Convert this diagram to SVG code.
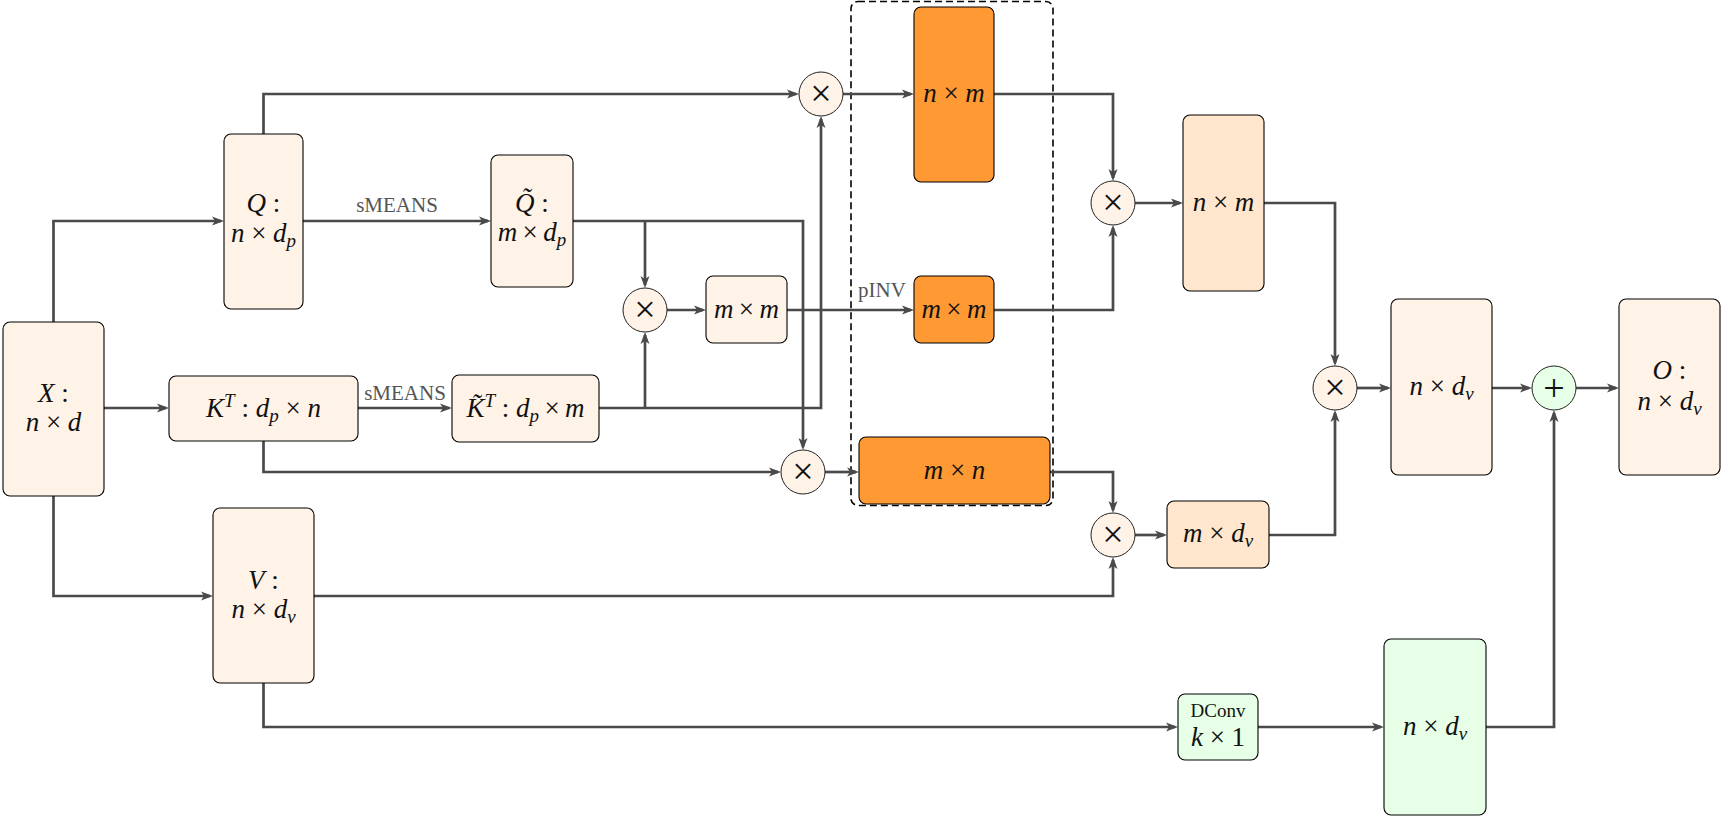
<svg xmlns="http://www.w3.org/2000/svg" width="1724" height="818" viewBox="0 0 1724 818">
<style>
.box{stroke:#000;stroke-width:1.1}
.cream{fill:#fff2e6}.lor{fill:#ffe6cc}.or{fill:#ff9933}.gr{fill:#e6ffe6}
.opc{fill:#fff2e6;stroke:#222;stroke-width:1}
.opg{fill:#e6ffe6;stroke:#222;stroke-width:1}
#connectors path{fill:none;stroke:#4a4a4a;stroke-width:2.7;marker-end:url(#ah)}
.t{font-family:"Liberation Serif","Times New Roman",serif;font-size:27px;fill:#111;text-anchor:middle}
.i{font-style:italic}
.s{font-size:19px}
.lbl{font-family:"Liberation Serif","Times New Roman",serif;font-size:21px;fill:#555;text-anchor:middle}
.op{font-family:"Liberation Serif",serif;font-size:38px;fill:#111;text-anchor:middle}
</style>
<defs>
<marker id="ah" viewBox="-10 -6 14 12" refX="0" refY="0" markerWidth="14" markerHeight="12" markerUnits="userSpaceOnUse" orient="auto">
<path d="M3,0 L-9,-4.5 L-6,0 L-9,4.5 Z" fill="#4a4a4a"/>
</marker>
</defs>
<rect width="1724" height="818" fill="#fff"/>

<rect id="dashed-group" x="851" y="1.5" width="202" height="504" rx="7" fill="none" stroke="#000" stroke-width="1.6" stroke-dasharray="7 4"/>

<g id="connectors">
<path d="M53.5,322 V221 H221"/>
<path d="M104,408 H166"/>
<path d="M53.5,496 V596 H210"/>
<path d="M263.5,134 V94 H796"/>
<path d="M303,221 H488"/>
<path d="M358,408 H449"/>
<path d="M573,221 H803 V447"/>
<path d="M645,221 V285"/>
<path d="M599,408 H821 V119"/>
<path d="M645,408 V335"/>
<path d="M263.5,441 V472 H778"/>
<path d="M667,310 H703"/>
<path d="M787,310 H911"/>
<path d="M843,94 H911"/>
<path d="M825,472 H856"/>
<path d="M994,94 H1113 V178"/>
<path d="M994,310 H1113 V228"/>
<path d="M1135,203 H1180"/>
<path d="M1264,203 H1335 V363"/>
<path d="M1050,472 H1113 V510"/>
<path d="M314,596 H1113 V560"/>
<path d="M1135,535 H1164"/>
<path d="M1269,535 H1335 V413"/>
<path d="M1357,388 H1388"/>
<path d="M1492,388 H1529"/>
<path d="M1576,388 H1616"/>
<path d="M263.5,683 V727 H1175"/>
<path d="M1258,727 H1381"/>
<path d="M1486,727 H1554 V413"/>
<text class="lbl" x="397" y="212">sMEANS</text>
<text class="lbl" x="405" y="400">sMEANS</text>
<text class="lbl" x="882" y="297">pINV</text>
</g>

<g id="X">
<rect class="box cream" x="3" y="322" width="101" height="174" rx="7"/>
<text class="t" x="53.5" y="402"><tspan class="i">X</tspan> :</text>
<text class="t" x="53.5" y="431"><tspan class="i">n</tspan> × <tspan class="i">d</tspan></text>
</g>

<g id="Q">
<rect class="box cream" x="224" y="134" width="79" height="175" rx="7"/>
<text class="t" x="263.5" y="212"><tspan class="i">Q</tspan> :</text>
<text class="t" x="263.5" y="242"><tspan class="i">n</tspan> × <tspan class="i">d</tspan><tspan class="i s" dy="5">p</tspan></text>
</g>

<g id="Qtilde">
<rect class="box cream" x="491" y="155" width="82" height="132" rx="7"/>
<text class="t" x="532" y="212"><tspan class="i">Q&#x303;</tspan> :</text>
<text class="t" x="532" y="241"><tspan class="i">m</tspan>&#x2009;×&#x2009;<tspan class="i">d</tspan><tspan class="i s" dy="5">p</tspan></text>
</g>

<g id="KT">
<rect class="box cream" x="169" y="376" width="189" height="65" rx="7"/>
<text class="t" x="263.5" y="417"><tspan class="i">K</tspan><tspan class="i s" dy="-10">T</tspan><tspan dy="10"> : </tspan><tspan class="i">d</tspan><tspan class="i s" dy="5">p</tspan><tspan dy="-5"> × </tspan><tspan class="i">n</tspan></text>
</g>

<g id="KtildeT">
<rect class="box cream" x="452" y="375" width="147" height="67" rx="7"/>
<text class="t" x="525.5" y="417"><tspan class="i">K&#x303;</tspan><tspan class="i s" dy="-10">T</tspan><tspan dy="10"> : </tspan><tspan class="i">d</tspan><tspan class="i s" dy="5">p</tspan><tspan dy="-5">&#x2009;×&#x2009;</tspan><tspan class="i">m</tspan></text>
</g>

<g id="mul2">
<circle class="opc" cx="645" cy="310" r="22"/>
<text class="op" x="645" y="321.5">×</text>
</g>

<g id="MM">
<rect class="box cream" x="706" y="276" width="81" height="67" rx="7"/>
<text class="t" x="746.5" y="318"><tspan class="i">m</tspan>&#x2009;×&#x2009;<tspan class="i">m</tspan></text>
</g>

<g id="mul1">
<circle class="opc" cx="821" cy="94" r="22"/>
<text class="op" x="821" y="105.5">×</text>
</g>

<g id="mul3">
<circle class="opc" cx="803" cy="472" r="22"/>
<text class="op" x="803" y="483.5">×</text>
</g>

<g id="NMorange">
<rect class="box or" x="914" y="7" width="80" height="175" rx="7"/>
<text class="t" x="954" y="102"><tspan class="i">n</tspan> × <tspan class="i">m</tspan></text>
</g>

<g id="MMorange">
<rect class="box or" x="914" y="276" width="80" height="67" rx="7"/>
<text class="t" x="954" y="318"><tspan class="i">m</tspan>&#x2009;×&#x2009;<tspan class="i">m</tspan></text>
</g>

<g id="MNorange">
<rect class="box or" x="859" y="437" width="191" height="67" rx="7"/>
<text class="t" x="954.5" y="479"><tspan class="i">m</tspan> × <tspan class="i">n</tspan></text>
</g>

<g id="mul4">
<circle class="opc" cx="1113" cy="203" r="22"/>
<text class="op" x="1113" y="214.5">×</text>
</g>

<g id="NM">
<rect class="box lor" x="1183" y="115" width="81" height="176" rx="7"/>
<text class="t" x="1223.5" y="211"><tspan class="i">n</tspan> × <tspan class="i">m</tspan></text>
</g>

<g id="mul6">
<circle class="opc" cx="1113" cy="535" r="22"/>
<text class="op" x="1113" y="546.5">×</text>
</g>

<g id="MDv">
<rect class="box lor" x="1167" y="501" width="102" height="67" rx="7"/>
<text class="t" x="1218" y="542"><tspan class="i">m</tspan> × <tspan class="i">d</tspan><tspan class="i s" dy="5">v</tspan></text>
</g>

<g id="mul5">
<circle class="opc" cx="1335" cy="388" r="22"/>
<text class="op" x="1335" y="399.5">×</text>
</g>

<g id="NDv">
<rect class="box cream" x="1391" y="299" width="101" height="176" rx="7"/>
<text class="t" x="1441.5" y="395"><tspan class="i">n</tspan> × <tspan class="i">d</tspan><tspan class="i s" dy="5">v</tspan></text>
</g>

<g id="plus">
<circle class="opg" cx="1554" cy="388" r="22"/>
<text class="op" x="1554" y="400.5">+</text>
</g>

<g id="O">
<rect class="box cream" x="1619" y="299" width="101" height="176" rx="7"/>
<text class="t" x="1669.5" y="379"><tspan class="i">O</tspan> :</text>
<text class="t" x="1669.5" y="410"><tspan class="i">n</tspan> × <tspan class="i">d</tspan><tspan class="i s" dy="5">v</tspan></text>
</g>

<g id="V">
<rect class="box cream" x="213" y="508" width="101" height="175" rx="7"/>
<text class="t" x="263.5" y="589"><tspan class="i">V</tspan> :</text>
<text class="t" x="263.5" y="618"><tspan class="i">n</tspan> × <tspan class="i">d</tspan><tspan class="i s" dy="5">v</tspan></text>
</g>

<g id="DConv">
<rect class="box gr" x="1178" y="694" width="80" height="66" rx="7"/>
<text class="t" x="1218" y="717" style="font-size:19px">DConv</text>
<text class="t" x="1218" y="746"><tspan class="i">k</tspan> × 1</text>
</g>

<g id="NDvGreen">
<rect class="box gr" x="1384" y="639" width="102" height="176" rx="7"/>
<text class="t" x="1435" y="735"><tspan class="i">n</tspan> × <tspan class="i">d</tspan><tspan class="i s" dy="5">v</tspan></text>
</g>
</svg>
